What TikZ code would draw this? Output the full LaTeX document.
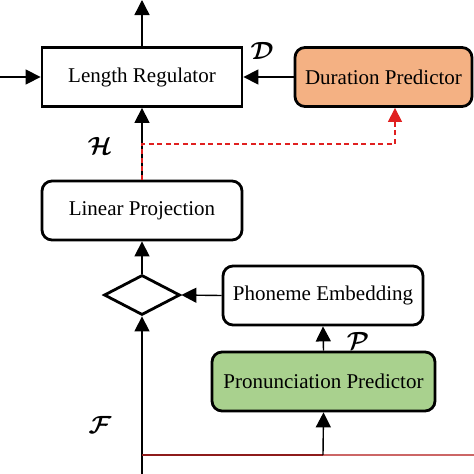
\documentclass[tikz,border=0pt]{standalone}
\usepackage{fontspec}
\usepackage{amsmath,bm}
\setmainfont{Liberation Serif}
\usetikzlibrary{calc,positioning,arrows.meta,shapes.geometric}
\definecolor{DurOrange}{HTML}{F4B183}
\definecolor{PronGreen}{HTML}{A9D18E}
\definecolor{FeatRed}{HTML}{8E1B1B}
\definecolor{FeatLight}{HTML}{CC6666}
\definecolor{DashRed}{HTML}{E02020}

\begin{document}
\begin{tikzpicture}[
    x=1pt, y=-1pt,
    font=\fontsize{21}{25}\selectfont,
    block/.style={draw, line width=2.8pt, minimum height=59pt, inner sep=0pt},
    softblock/.style={block, rounded corners=10pt},
    conn/.style={line width=1.4pt, -{Triangle[length=15pt,width=15pt]}},
    sym/.style={font=\fontsize{25}{28}\selectfont}
  ]
    \useasboundingbox (0,0) rectangle (474,474);

    % main blocks
    \node[block, minimum width=200pt] (regulator) at (142,77) {Length Regulator};
    \node[softblock, fill=DurOrange, minimum width=177pt] (duration) at (383.5,77) {Duration Predictor};
    \node[softblock, minimum width=200pt] (projection) at (142,210.5) {Linear Projection};
    \node[draw, diamond, line width=2.8pt, minimum width=76pt, minimum height=40pt, inner sep=0pt] (merge) at (142,295) {};
    \node[softblock, minimum width=200pt] (phoneme) at (323,295.5) {Phoneme Embedding};
    \node[softblock, fill=PronGreen, minimum width=223pt] (pronun) at (323.5,381.5) {Pronunciation Predictor};

    % free ends
    \coordinate (output) at (142,0);
    \coordinate (input) at (0,77);
    \coordinate (split) at (142,144);
    \coordinate (featin) at (142,474);
    \coordinate (featjoin) at (142,455);
    \coordinate (feattap) at (323,455);
    \coordinate (featend) at (474,455);

    % labels
    \node[sym] at (262,51) {$\bm{\mathcal{D}}$};
    \node[sym] at (100,146) {$\bm{\mathcal{H}}$};
    \node[sym] at (358,341) {$\bm{\mathcal{P}}$};
    \node[sym] at (100,425) {$\bm{\mathcal{F}}$};

    % connectors
    \draw[conn] (regulator.north) -- (output);
    \draw[conn] (input) -- (regulator.west);
    \draw[conn] (duration.west) -- (regulator.east);
    \draw[conn] (projection.north) -- (regulator.south);
    \draw[conn] (merge.north) -- (projection.south);
    \draw[conn] (phoneme.west) -- (merge.east);
    \draw[conn] (pronun.north) -- (phoneme.south);
    \draw[conn] (featin) -- (merge.south);
    \draw[line width=1.4pt, FeatRed] (featjoin) -- (feattap);
    \draw[line width=1.4pt, FeatLight] (feattap) -- (featend);
    \draw[conn] (feattap) -- (pronun.south);
    \draw[DashRed, line width=1.2pt, dash pattern=on 5pt off 3.5pt, -{Triangle[length=14pt,width=14pt]}]
      (projection.north) -- (split) -| ([xshift=11.5pt]duration.south);
  \end{tikzpicture}
\end{document}
